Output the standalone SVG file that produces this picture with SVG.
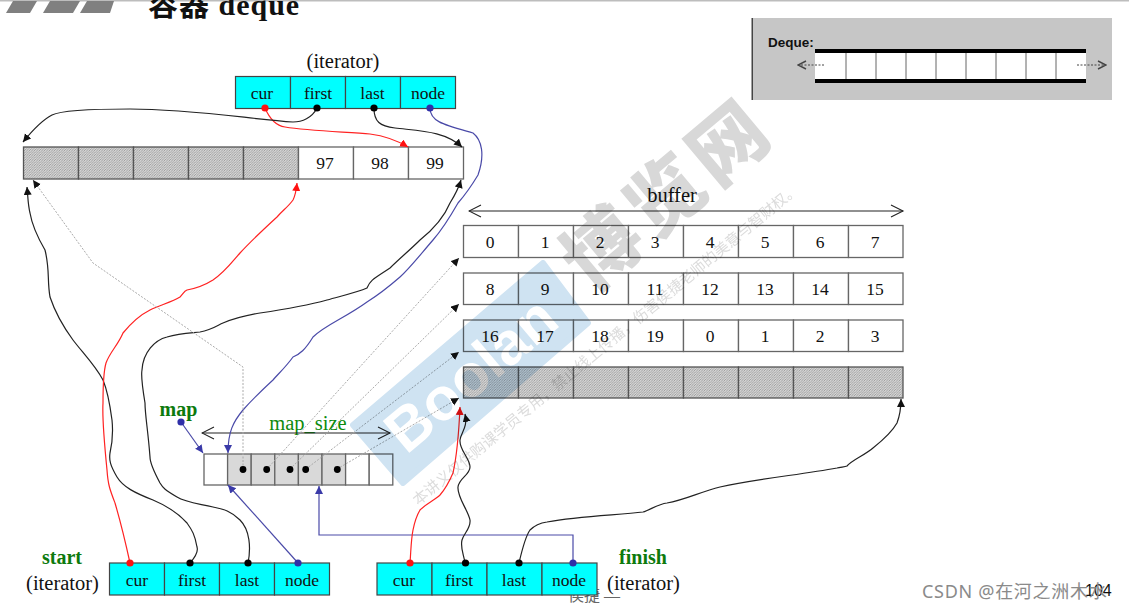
<svg xmlns="http://www.w3.org/2000/svg" width="1129" height="610" viewBox="0 0 1129 610">
<style>
text{font-family:"Liberation Serif","Noto Sans CJK SC",serif;fill:#111}
.c{font-size:17.5px;text-anchor:middle}
.l{font-size:20.5px;text-anchor:middle}
.g{font-size:20.5px;text-anchor:middle;fill:#0d8a0d}
.gb{font-size:20px;font-weight:bold;text-anchor:middle;fill:#0d7a0d}
.cell{fill:#fff;stroke:#666;stroke-width:1.3}
.it{fill:#00ffff;stroke:#444;stroke-width:1.2}
.h{fill:url(#hatch);stroke:#555;stroke-width:1.3}
.mc{fill:#d9d9d9;stroke:#666;stroke-width:1.3}
.k{fill:none;stroke:#222;stroke-width:1.2;marker-end:url(#ak)}
.r{fill:none;stroke:#f22;stroke-width:1.2;marker-end:url(#ar)}
.b{fill:none;stroke:#4a4aa8;stroke-width:1.2;marker-end:url(#ab)}
.d{fill:none;stroke:#aaa;stroke-width:1;stroke-dasharray:2 1.5;marker-end:url(#ak)}
.o{fill:none;stroke:#222;stroke-width:1.2;marker-start:url(#os);marker-end:url(#oe)}
.dk{fill:#000}.dr{fill:#f11}.db{fill:#2f2fa8}
</style>
<defs>
<pattern id="hatch" width="2.5" height="2.5" patternUnits="userSpaceOnUse">
<rect width="2.5" height="2.5" fill="#d2d2d2"/>
<path d="M-0.6 0.6L0.6 -0.6M0 2.5L2.5 0M1.9 3.1L3.1 1.9" stroke="#8a8a8a" stroke-width="0.7"/>
<path d="M0 0.6L1 1.6" stroke="#f4f4f4" stroke-width="0.5"/>
</pattern>
<marker id="ak" markerUnits="userSpaceOnUse" markerWidth="9" markerHeight="9" refX="8" refY="4" orient="auto"><path d="M0 0L8 4L0 8Z" fill="#111"/></marker>
<marker id="ar" markerUnits="userSpaceOnUse" markerWidth="9" markerHeight="9" refX="8" refY="4" orient="auto"><path d="M0 0L8 4L0 8Z" fill="#f11"/></marker>
<marker id="ab" markerUnits="userSpaceOnUse" markerWidth="9" markerHeight="9" refX="8" refY="4" orient="auto"><path d="M0 0L8 4L0 8Z" fill="#3a3aa8"/></marker>
<marker id="oe" markerUnits="userSpaceOnUse" markerWidth="15" markerHeight="15" refX="13" refY="7" orient="auto"><path d="M1 1L13 7L1 13" fill="none" stroke="#222" stroke-width="1.1"/></marker>
<marker id="os" markerUnits="userSpaceOnUse" markerWidth="15" markerHeight="15" refX="1" refY="7" orient="auto"><path d="M13 1L1 7L13 13" fill="none" stroke="#222" stroke-width="1.1"/></marker>
<marker id="gr" markerUnits="userSpaceOnUse" markerWidth="10" markerHeight="10" refX="9" refY="5" orient="auto"><path d="M1 1L9 5L1 9" fill="none" stroke="#444" stroke-width="1.4"/></marker>
</defs>

<rect width="1129" height="610" fill="#fff"/>
<g id="header">
<rect x="0" y="0" width="1129" height="1.5" fill="#bdbdbd"/>
<polygon points="6,13 30,13 37,1 13,1" fill="#808080"/>
<polygon points="43,13 73,13 80,1 50,1" fill="#808080"/>
<polygon points="80,13 110,13 114,1 87,1" fill="#808080"/>
<text x="148" y="15" font-size="30" font-weight="bold" letter-spacing="1">容器 deque</text>
</g>

<g id="deque-inset">
<rect x="752" y="18" width="360" height="82" fill="#c6c6c6"/>
<rect x="751.5" y="18" width="1.5" height="82" fill="#444"/>
<rect x="815" y="50" width="271" height="32" fill="#fff"/>
<path d="M846 50V82M876 50V82M906 50V82M936 50V82M966 50V82M996 50V82M1026 50V82M1056 50V82" stroke="#666" stroke-width="1"/>
<rect x="815" y="49" width="271" height="4" fill="#000"/>
<rect x="815" y="79" width="271" height="4" fill="#000"/>
<path d="M824 65H798" fill="none" stroke="#444" stroke-dasharray="2 1.5" marker-end="url(#gr)"/>
<path d="M1077 65H1106" fill="none" stroke="#444" stroke-dasharray="2 1.5" marker-end="url(#gr)"/>
<text x="768" y="47" font-size="13.5" font-weight="bold" style="font-family:'Liberation Sans',sans-serif">Deque:</text>
</g>

<g id="top-iterator">
<text class="l" x="343" y="68">(iterator)</text>
<rect class="it" x="235.5" y="76.5" width="55" height="32"/><rect class="it" x="290.5" y="76.5" width="55" height="32"/><rect class="it" x="345.5" y="76.5" width="55" height="32"/><rect class="it" x="400.5" y="76.5" width="55" height="32"/>
<text class="c" x="262" y="99">cur</text><text class="c" x="318" y="99">first</text><text class="c" x="372.5" y="99">last</text><text class="c" x="428" y="99">node</text>
</g>

<g id="top-buffer">
<rect class="h" x="23.5" y="147" width="55" height="32"/><rect class="h" x="78.5" y="147" width="55" height="32"/><rect class="h" x="133.5" y="147" width="55" height="32"/><rect class="h" x="188.5" y="147" width="55" height="32"/><rect class="h" x="243.5" y="147" width="55" height="32"/>
<rect class="cell" x="298.5" y="147" width="55" height="32"/><rect class="cell" x="353.5" y="147" width="55" height="32"/><rect class="cell" x="408.5" y="147" width="55" height="32"/>
<text class="c" x="325" y="169">97</text><text class="c" x="380" y="169">98</text><text class="c" x="435" y="169">99</text>
</g>

<g id="buffer-label">
<text class="l" x="672" y="202">buffer</text>
</g>

<g id="buffer-row-1">
<rect class="cell" x="463.5" y="225.5" width="55" height="32"/><rect class="cell" x="518.5" y="225.5" width="55" height="32"/><rect class="cell" x="573.5" y="225.5" width="55" height="32"/><rect class="cell" x="628.5" y="225.5" width="55" height="32"/><rect class="cell" x="683.5" y="225.5" width="55" height="32"/><rect class="cell" x="738.5" y="225.5" width="55" height="32"/><rect class="cell" x="793.5" y="225.5" width="55" height="32"/><rect class="cell" x="848.5" y="225.5" width="54.5" height="32"/>
<text class="c" x="490" y="248">0</text><text class="c" x="545" y="248">1</text><text class="c" x="600" y="248">2</text><text class="c" x="655" y="248">3</text><text class="c" x="710" y="248">4</text><text class="c" x="765" y="248">5</text><text class="c" x="820" y="248">6</text><text class="c" x="875" y="248">7</text>
</g>
<g id="buffer-row-2">
<rect class="cell" x="463.5" y="273" width="55" height="31.5"/><rect class="cell" x="518.5" y="273" width="55" height="31.5"/><rect class="cell" x="573.5" y="273" width="55" height="31.5"/><rect class="cell" x="628.5" y="273" width="55" height="31.5"/><rect class="cell" x="683.5" y="273" width="55" height="31.5"/><rect class="cell" x="738.5" y="273" width="55" height="31.5"/><rect class="cell" x="793.5" y="273" width="55" height="31.5"/><rect class="cell" x="848.5" y="273" width="54.5" height="31.5"/>
<text class="c" x="490" y="295">8</text><text class="c" x="545" y="295">9</text><text class="c" x="600" y="295">10</text><text class="c" x="655" y="295">11</text><text class="c" x="710" y="295">12</text><text class="c" x="765" y="295">13</text><text class="c" x="820" y="295">14</text><text class="c" x="875" y="295">15</text>
</g>
<g id="buffer-row-3">
<rect class="cell" x="463.5" y="320" width="55" height="31.5"/><rect class="cell" x="518.5" y="320" width="55" height="31.5"/><rect class="cell" x="573.5" y="320" width="55" height="31.5"/><rect class="cell" x="628.5" y="320" width="55" height="31.5"/><rect class="cell" x="683.5" y="320" width="55" height="31.5"/><rect class="cell" x="738.5" y="320" width="55" height="31.5"/><rect class="cell" x="793.5" y="320" width="55" height="31.5"/><rect class="cell" x="848.5" y="320" width="54.5" height="31.5"/>
<text class="c" x="490" y="342">16</text><text class="c" x="545" y="342">17</text><text class="c" x="600" y="342">18</text><text class="c" x="655" y="342">19</text><text class="c" x="710" y="342">0</text><text class="c" x="765" y="342">1</text><text class="c" x="820" y="342">2</text><text class="c" x="875" y="342">3</text>
</g>
<g id="buffer-row-4">
<rect class="h" x="463.5" y="367" width="55" height="31"/><rect class="h" x="518.5" y="367" width="55" height="31"/><rect class="h" x="573.5" y="367" width="55" height="31"/><rect class="h" x="628.5" y="367" width="55" height="31"/><rect class="h" x="683.5" y="367" width="55" height="31"/><rect class="h" x="738.5" y="367" width="55" height="31"/><rect class="h" x="793.5" y="367" width="55" height="31"/><rect class="h" x="848.5" y="367" width="54.5" height="31"/>
</g>

<g id="map">
<text class="gb" x="178.5" y="416">map</text>
<text class="g" x="308" y="430">map_size</text>
<rect class="cell" x="204" y="454" width="23.6" height="31"/>
<rect class="mc" x="227.6" y="454" width="23.6" height="31"/><rect class="mc" x="251.2" y="454" width="23.6" height="31"/><rect class="mc" x="274.8" y="454" width="23.6" height="31"/><rect class="mc" x="298.4" y="454" width="23.6" height="31"/><rect class="mc" x="322" y="454" width="23.6" height="31"/>
<rect class="cell" x="345.6" y="454" width="23.6" height="31"/><rect class="cell" x="369.2" y="454" width="23.6" height="31"/>
</g>

<g id="start-iterator">
<text class="gb" x="62" y="564">start</text>
<text class="l" x="62.5" y="590">(iterator)</text>
<rect class="it" x="109.5" y="563" width="55" height="32"/><rect class="it" x="164.5" y="563" width="55" height="32"/><rect class="it" x="219.5" y="563" width="55" height="32"/><rect class="it" x="274.5" y="563" width="55" height="32"/>
<text class="c" x="137" y="586">cur</text><text class="c" x="192" y="586">first</text><text class="c" x="247" y="586">last</text><text class="c" x="302" y="586">node</text>
</g>

<g id="finish-iterator">
<text x="568" y="601" font-size="16" style="fill:#666">侯捷 —</text>
<rect class="it" x="377" y="563" width="55" height="32"/><rect class="it" x="432" y="563" width="55" height="32"/><rect class="it" x="487" y="563" width="55" height="32"/><rect class="it" x="542" y="563" width="55" height="32"/>
<text class="gb" x="643" y="564">finish</text>
<text class="l" x="643.5" y="590">(iterator)</text>
<text class="c" x="404" y="586">cur</text><text class="c" x="459" y="586">first</text><text class="c" x="514" y="586">last</text><text class="c" x="569" y="586">node</text>
</g>

<g id="connectors">
<path class="o" d="M469 211H903"/>
<path class="o" d="M202 433H390"/>
<path class="r" d="M265 108C271 122 278 126 285 127C310 131 350 132 370 134C385 136 398 141 408 147"/>
<path class="k" d="M317 108C312 118 302 122 293 122C250 119 190 109 130 109C90 109 60 111 52 115C42 120 32 131 23 142"/>
<path class="k" d="M374 108C374 122 380 126 395 128C420 131 445 131 462 147"/>
<path class="b" d="M430 108C430 122 445 125 473 133C482 140 485 155 478 175C472 185 465 195 458 203C450 217 440 232 433 240C420 255 410 268 400 277C385 290 375 297 367 302C345 318 325 325 313 337C305 350 300 354 293 357C285 368 278 374 273 380C260 392 250 402 243 410C233 422 228 432 228 453"/>
<path class="k" d="M248 563C251 548 250 530 240 520C230 510 222 509 213 507C195 503 185 502 177 497C165 490 163 488 160 483C152 468 150 460 150 457C148 430 145 415 145 403C142 385 141 375 142 370C143 352 155 340 167 337C180 333 190 333 200 332C212 330 218 325 223 323C235 318 248 315 260 313C280 310 305 306 327 300C345 295 358 292 367 288C370 280 375 278 390 268C400 258 410 250 420 240C435 228 445 215 450 203C455 195 458 190 461 180"/>
<path class="k" d="M190 563C197 555 198 550 197 547C195 535 192 530 187 523C178 513 165 505 153 500C135 493 123 487 117 477C110 465 109 460 110 453C113 440 113 430 112 420C110 405 108 392 103 380C95 365 82 352 73 340C62 325 55 312 50 297C47 280 50 270 45 250C38 238 32 225 30 213C28 205 28 198 27 187"/>
<path class="r" d="M130 563C125 540 120 520 115 503C110 490 108 485 107 470C104 440 102 420 103 403C103 380 104 370 106 363C110 352 118 345 123 333C132 322 140 315 150 310C160 305 172 302 180 297C183 294 184 291 187 290C198 288 205 285 213 280C225 272 232 262 240 253C252 240 265 228 277 217C283 210 288 207 293 200C295 196 296 193 297 183"/>
<path class="d" d="M243 469V367L93 263L33 180"/>
<path class="d" d="M267 469L459 258"/>
<path class="d" d="M290 469L459 304"/>
<path class="d" d="M306 469L459 352"/>
<path class="d" d="M337 469L459 398"/>
<path class="b" d="M181 422L203 453"/>
<path class="b" d="M298 563L228 485"/>
<path class="b" d="M573 563V535H319V486"/>
<path class="r" d="M410 563C411 550 411 540 413 530C415 520 417 515 420 510C428 502 435 500 440 495C447 487 450 480 453 473C457 455 459 430 460 407"/>
<path class="k" d="M465 563C464 555 460 548 462 540C464 533 471 528 470 520C468 510 457 497 458 487C459 478 470 475 470 467C470 458 459 450 460 440C461 432 468 428 465 414"/>
<path class="k" d="M519 563C522 550 525 537 530 530C535 525 540 523 547 522C580 516 620 515 643 512C650 510 658 504 667 503C685 500 700 492 720 487C760 478 800 475 837 468C840 467 845 467 847 466C852 460 865 455 873 448C883 440 892 432 897 423C900 415 901 408 901 399"/>
</g>

<g id="dots">
<circle class="dr" cx="265" cy="108" r="3.6"/><circle class="dk" cx="317" cy="108" r="3.6"/><circle class="dk" cx="374" cy="108" r="3.6"/><circle class="db" cx="430" cy="108" r="3.6"/>
<circle class="db" cx="181" cy="422" r="3.6"/>
<circle class="dk" cx="243" cy="469.5" r="3.4"/><circle class="dk" cx="266.7" cy="469.5" r="3.4"/><circle class="dk" cx="290" cy="469.5" r="3.4"/><circle class="dk" cx="305.7" cy="469.5" r="3.4"/><circle class="dk" cx="337.3" cy="469.5" r="3.4"/>
<circle class="dr" cx="130" cy="563" r="3.6"/><circle class="dk" cx="190" cy="563" r="3.6"/><circle class="dk" cx="248" cy="563" r="3.6"/><circle class="db" cx="298" cy="563" r="3.6"/>
<circle class="dr" cx="410" cy="563" r="3.6"/><circle class="dk" cx="465.5" cy="563" r="3.6"/><circle class="dk" cx="519" cy="563" r="3.6"/><circle class="db" cx="573" cy="563" r="3.6"/>
</g>

<g id="watermark" style="mix-blend-mode:multiply">
<polygon points="353,425 543,263 588,323 403,483" fill="#cfe3f2" stroke="#cfe3f2" stroke-width="6" stroke-linejoin="round"/>
<text transform="translate(484,390) rotate(-40)" text-anchor="middle" font-size="60" font-weight="bold" style="fill:#fff;font-family:'Liberation Sans',sans-serif">Boolan</text>
<text transform="translate(685,215) rotate(-40)" text-anchor="middle" font-size="76" font-weight="900" letter-spacing="6" style="fill:#d8d8d8;font-family:'Noto Sans CJK SC',sans-serif">博览网</text>
<text transform="translate(418,506) rotate(-39.5)" font-size="15" style="fill:#dcdcdc;font-family:'Noto Sans CJK SC',sans-serif">本讲义仅供购课学员专用，禁止线上传播，伤害侯捷老师的美意与智财权。</text>
</g>

<g id="footer">
<text x="1085" y="596" font-size="16" style="font-family:'Liberation Sans',sans-serif">104</text>
<text x="922" y="598" font-size="18" letter-spacing="0.7" style="fill:#8a8a8a;font-family:'Noto Sans','Noto Sans CJK SC',sans-serif">CSDN @在河之洲木水</text>
</g>
</svg>
